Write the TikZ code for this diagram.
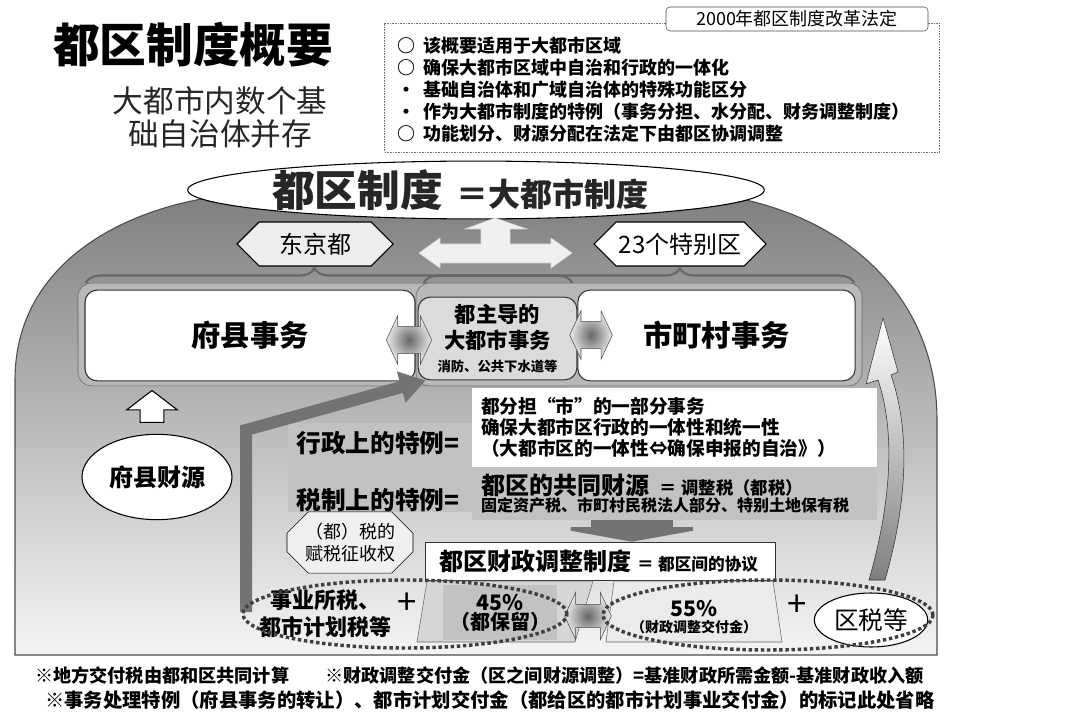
\documentclass[tikz,border=0pt]{standalone}
\usepackage{fontspec}
\setmainfont{Noto Sans CJK SC}
\usepackage{tikz}
\usetikzlibrary{shapes.geometric,shapes.symbols,shapes.arrows,shapes.misc,decorations.pathreplacing,arrows.meta}
\definecolor{domegray}{rgb}{0.50,0.50,0.50}
\definecolor{bandgray}{rgb}{0.76,0.76,0.76}
\definecolor{framegray}{rgb}{0.72,0.72,0.72}
\definecolor{midgray}{rgb}{0.86,0.86,0.86}
\definecolor{pipegray}{rgb}{0.45,0.45,0.45}
\definecolor{dotgray}{rgb}{0.25,0.25,0.25}

\begin{document}
\begin{tikzpicture}
  [x=0.75pt,y=-0.75pt,every node/.style={inner sep=0pt,align=center},
   hexbox/.style={shape=signal,signal to=west and east,signal pointer angle=90,draw,thick,minimum height=33pt,font=\fontsize{18}{20}\selectfont},
   taskbox/.style={rectangle,rounded corners=9pt,draw=black!80,thick,fill=white,minimum height=68pt,font=\fontsize{22}{24}\selectfont\bfseries},
   bracketframe/.style={rectangle,rounded corners=10pt,draw=black!60,fill=framegray,minimum height=77pt},
   bigbrace/.style={decorate,draw=black!60,line width=1.6pt},
   swaparrow/.style={shape=double arrow,draw=black!70,inner xsep=0pt,inner ysep=10pt,double arrow head extend=8pt,double arrow tip angle=130,shading=radial,inner color=black!60,outer color=black!8},
   oval/.style={ellipse,draw,thick,fill=white},
   dotring/.style={ellipse,draw=dotgray,line width=2.6pt,dash pattern=on 2.6pt off 2pt},
   bodytext/.style={font=\fontsize{13.5}{16.5}\selectfont\bfseries}]

  \fill[white] (0,0) rectangle (1080,723);
  \useasboundingbox (0,0) rectangle (1080,723);

  \node[font=\fontsize{35}{40}\selectfont\bfseries] (title) at (193,45) {都区制度概要};
  \node[font=\fontsize{23}{24.75}\selectfont,text=black!85] (subtitle) at (220,117) {大都市内数个基\\础自治体并存};

  \node[draw=black!55,dash pattern=on 1.2pt off 0.8pt,minimum width=416pt,minimum height=97pt] (summary) at (662,87.5) {};
  \node[bodytext,anchor=west,align=left] (points) at (397,90) {○\hspace{0.45em}该概要适用于大都市区域\\
    ○\hspace{0.45em}确保大都市区域中自治和行政的一体化\\
    ・\hspace{0.45em}基础自治体和广域自治体的特殊功能区分\\
    ・\hspace{0.45em}作为大都市制度的特例（事务分担、水分配、财务调整制度）\\
    ○\hspace{0.45em}功能划分、财源分配在法定下由都区协调调整};
  \node[draw=black!70,rounded corners=3pt,fill=white,minimum width=196.5pt,minimum height=18pt,font=\fontsize{13.5}{15}\selectfont] (year) at (797,19) {2000年都区制度改革法定};

  \shade[top color=domegray,middle color=black!28,bottom color=black!4,draw=black!70,thick]
    (15,655) -- (15,380) .. controls (15,260) and (130,205) .. (230,195) -- (720,195)
    .. controls (850,215) and (937,300) .. (937,420) -- (937,655) -- cycle;

  \node[oval,minimum width=414pt,minimum height=37.5pt,text=black!85] (seido) at (476,190)
    {{\fontsize{32}{34}\selectfont\bfseries 都区制度}\hspace{10pt}{\fontsize{24}{26}\selectfont\bfseries ＝大都市制度}\hspace{24pt}};

  \node[hexbox,fill=black!7,minimum width=117pt] (tokyo) at (315,244) {东京都};
  \node[hexbox,fill=white,minimum width=129pt] (wards) at (680,244) {23个特别区};

  \fill[black!6,draw=black!15]
    (419,253) -- (440,238) -- (440,244) -- (481,244) -- (481,229) -- (465,229) -- (495,218)
    -- (527,229) -- (510,229) -- (510,244) -- (551,244) -- (551,238) -- (572,253)
    -- (551,268) -- (551,263) -- (440,263) -- (440,268) -- cycle;

  \node[bracketframe,minimum width=376.5pt] (tofr) at (329,334.5) {};
  \node[bracketframe,minimum width=334.5pt] (kufr) at (639,334.5) {};
  \draw[bigbrace,decoration={brace,amplitude=11pt,aspect=0.47}] ([xshift=6pt]tofr.north west) -- ([xshift=-6pt]tofr.north east);
  \draw[bigbrace,decoration={brace,amplitude=11pt,aspect=0.595}] ([xshift=6pt]kufr.north west) -- ([xshift=-6pt]kufr.north east);

  \node[taskbox,minimum width=247.5pt] (fuken) at (250,335.5) {府县事务};
  \node[taskbox,minimum width=208pt] (shichoson) at (716.5,335.5) {市町村事务};
  \node[taskbox,fill=midgray,minimum width=119pt,minimum height=62pt,font=\fontsize{16}{20}\selectfont\bfseries] (daitoshi) at (497.5,338.5)
    {都主导的\\大都市事务\\[-3pt]{\fontsize{10}{11}\selectfont 消防、公共下水道等}};

  \node[swaparrow,minimum height=34pt] (swapl) at (409,340) {};
  \node[swaparrow,minimum height=32pt] (swapr) at (591,335) {};

  \node[single arrow,rotate=90,draw,thick,fill=white,minimum height=24pt,inner xsep=0pt,inner ysep=8.5pt,single arrow head extend=10pt,single arrow tip angle=105] (upfu) at (152,411) {};
  \node[oval,minimum width=112.5pt,minimum height=64pt,font=\fontsize{18}{20}\selectfont\bfseries] (zaigen) at (157,477) {府县财源};

  \node[fill=bandgray,minimum width=138pt,minimum height=66.75pt] (band) at (380,467.5) {};
  \node[font=\fontsize{18.5}{20}\selectfont\bfseries] (gyoseirei) at (378,443) {行政上的特例=};
  \node[font=\fontsize{18.5}{20}\selectfont\bfseries] (zeiseirei) at (378,500) {税制上的特例=};

  \node[fill=white,text width=290pt,inner xsep=7pt,minimum height=59pt,align=left,font=\fontsize{14}{16}\selectfont\bfseries] (gyosei) at (674.5,427.5)
    {都分担“市”的一部分事务\\确保大都市区行政的一体性和统一性\\（大都市区的一体性⇔确保申报的自治》）};
  \node[fill=bandgray,text width=290pt,inner xsep=7pt,minimum height=40pt,align=left] (kyodo) at (674.5,493.5)
    {{\fontsize{18}{20}\selectfont\bfseries 都区的共同财源}\hspace{8pt}{\fontsize{13}{15}\selectfont\bfseries ＝ 调整税（都税）}\\
     {\fontsize{12}{14}\selectfont\bfseries 固定资产税、市町村民税法人部分、特别土地保有税}};

  \node[chamfered rectangle,chamfered rectangle xsep=8pt,chamfered rectangle ysep=8pt,draw,fill=black!6,minimum width=94.5pt,minimum height=46pt,font=\fontsize{13.5}{16}\selectfont] (choshu) at (350,542.5)
    {（都）税的\\赋税征收权};

  \node[draw=black!80,fill=white,minimum height=28.5pt,text width=240.5pt,inner xsep=11pt,align=left] (chosei) at (600,561)
    {{\fontsize{18}{20}\selectfont\bfseries 都区财政调整制度}\hspace{4pt}{\fontsize{12.5}{14}\selectfont\bfseries ＝ 都区间的协议}};
  \draw[-{Triangle[width=122pt,length=11pt]},line width=62pt,draw=pipegray] ([xshift=-32pt]kyodo.south) -- ([xshift=-32pt]kyodo.south |- chosei.north);

  \coordinate (taxfoot) at (246,612);
  \coordinate (taxbend) at (246,430);
  \draw[-{Triangle[width=23pt,length=19pt]},line width=9pt,draw=pipegray] (taxfoot) -- (taxbend) -- ([xshift=6pt]daitoshi.south west);

  \fill[black!16,draw=black!60] (427,581) -- (593,581) -- (575,642) -- (417,642) -- cycle;
  \fill[black!8,draw=black!60] (614,581) -- (773,581) -- (782,642) -- (606,642) -- cycle;
  \node[fill=black!24,minimum width=85.5pt,minimum height=41pt] (toho) at (500,612.5)
    {{\fontsize{16}{18}\selectfont\bfseries 45\%}\\{\fontsize{15}{18}\selectfont\bfseries （都保留）}};
  \node (kofu) at (694,617)
    {{\fontsize{16}{18}\selectfont\bfseries 55\%}\\{\fontsize{10.5}{14}\selectfont\bfseries （财政调整交付金）}};
  \node[swaparrow,minimum height=35pt,inner ysep=8.5pt,double arrow head extend=9pt] (swapb) at (588,616) {};

  \node[font=\fontsize{16.5}{20}\selectfont\bfseries] (tozei) at (325,614) {事业所税、\\都市计划税等};
  \node[font=\fontsize{26}{26}\selectfont] (plusl) at (407,604) {+};
  \node[font=\fontsize{26}{26}\selectfont] (plusr) at (797,606) {+};
  \node[oval,minimum width=85pt,minimum height=40.5pt,font=\fontsize{18.5}{20}\selectfont] (kuzei) at (871,620) {区税等};

  \node[dotring,minimum width=243pt,minimum height=51pt] (toring) at (405,614) {};
  \node[dotring,minimum width=247.5pt,minimum height=52.5pt] (kuring) at (768,615) {};

  \coordinate (kutail) at (877,580);
  \coordinate (kutip) at (883,318);
  \shade[top color=white,bottom color=black!50,draw=black!80]
    ([xshift=-6pt]kutail) .. controls +(23,-80) and +(17,50) .. ([shift={(-5,62)}]kutip)
    -- ([shift={(-17,66)}]kutip) -- (kutip) -- ([shift={(15,54)}]kutip) -- ([shift={(8,57)}]kutip)
    .. controls +(19,55) and +(23,-80) .. ([xshift=6pt]kutail) -- cycle;

  \node[anchor=west,font=\fontsize{13.6}{15}\selectfont\bfseries] (note1) at (35,676)
    {※地方交付税由都和区共同计算\hspace{2em}※财政调整交付金（区之间财源调整）=基准财政所需金额-基准财政收入额};
  \node[anchor=west,font=\fontsize{14.5}{16}\selectfont\bfseries] (note2) at (45,700)
    {※事务处理特例（府县事务的转让）、都市计划交付金（都给区的都市计划事业交付金）的标记此处省略};
\end{tikzpicture}
\end{document}
